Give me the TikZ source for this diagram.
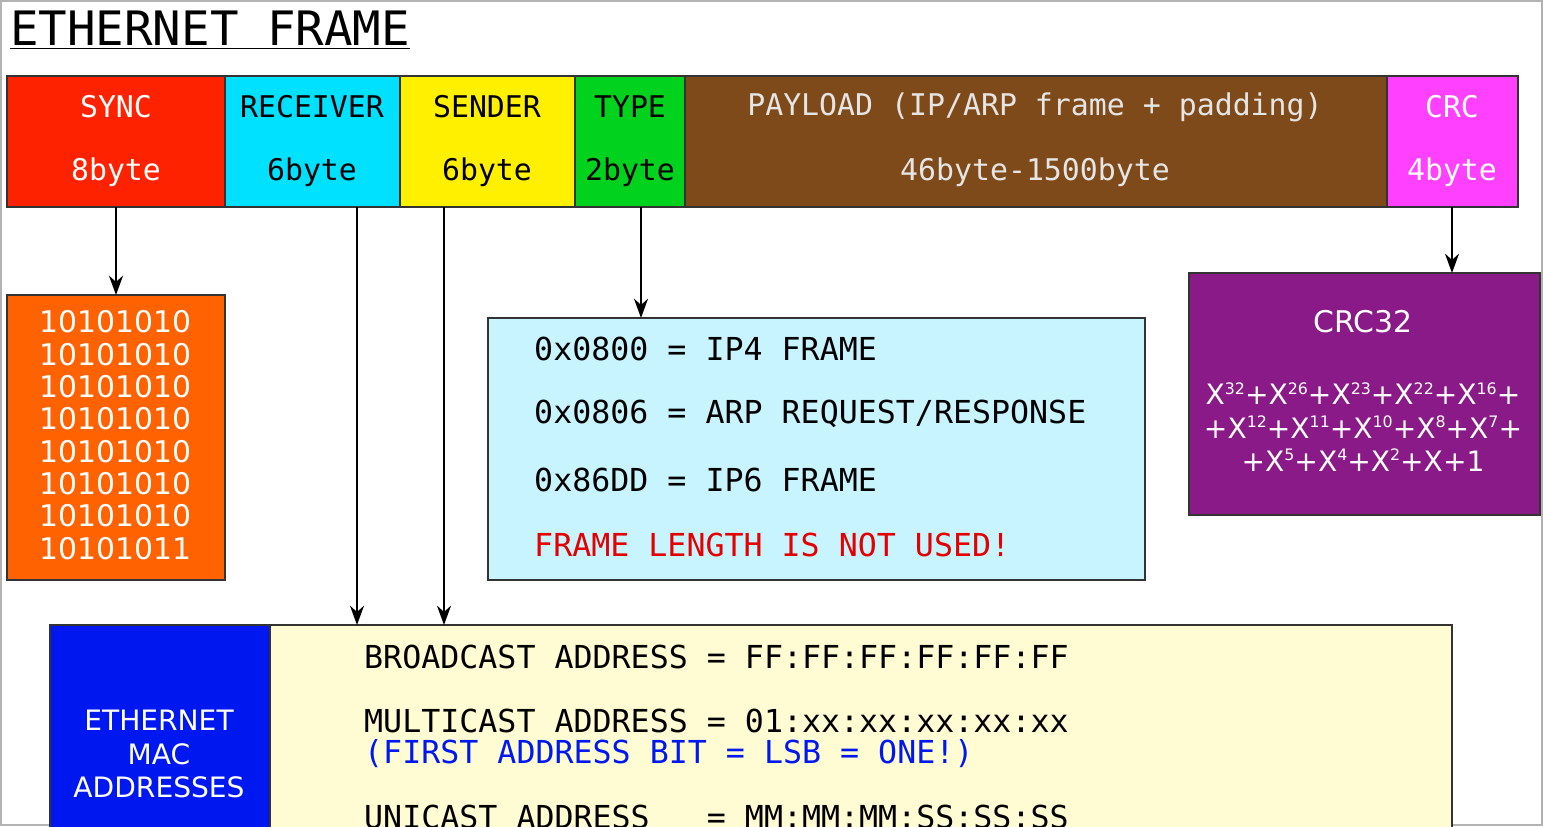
\documentclass[tikz,border=0pt]{standalone}
\usepackage{fontspec}
\setmainfont{DejaVu Sans}
\newfontfamily\mono{DejaVu Sans Mono}
\usetikzlibrary{arrows.meta}
\definecolor{cSync}{HTML}{FF2200}
\definecolor{cRecv}{HTML}{00E0FF}
\definecolor{cSend}{HTML}{FFF000}
\definecolor{cType}{HTML}{00D21E}
\definecolor{cPay}{HTML}{7F4A1A}
\definecolor{cCrc}{HTML}{FF40FF}
\definecolor{cOrange}{HTML}{FF6200}
\definecolor{cLcyan}{HTML}{C8F4FF}
\definecolor{cPurple}{HTML}{8A1A88}
\definecolor{cBlue}{HTML}{0018F0}
\definecolor{cCream}{HTML}{FFFBD2}
\newcommand{\sx}[1]{\raisebox{0.7ex}{\fontsize{9}{10}\selectfont #1}}
\begin{document}
\begin{tikzpicture}[x=0.02cm,y=-0.02cm,
  box/.style={draw=black!80,line width=1.2pt},
  hdr/.style={font=\mono\fontsize{17}{20}\selectfont,anchor=center},
  txt/.style={font=\mono\fontsize{18}{21}\selectfont,anchor=west},
  arr/.style={-{Stealth[length=11pt,width=8pt]},line width=1.2pt}]
\useasboundingbox (0,0) rectangle (1543,826);
\clip (0,0) rectangle (1543,826);
\fill[white] (0,0) rectangle (1543,826);
\draw[gray!60,line width=1pt] (1,1) rectangle (1542,825);
\node[anchor=west,font=\mono\fontsize{27}{32}\selectfont] (title) at (4,30) {\underline{ETHERNET FRAME}};
% header
\draw[box,fill=cSync] (7,76) rectangle (225,207);
\draw[box,fill=cRecv] (225,76) rectangle (400,207);
\draw[box,fill=cSend] (400,76) rectangle (575,207);
\draw[box,fill=cType] (575,76) rectangle (685,207);
\draw[box,fill=cPay] (685,76) rectangle (1387,207);
\draw[box,fill=cCrc] (1387,76) rectangle (1518,207);
\node[hdr,white] (s1) at (116,107) {SYNC};
\node[hdr,white] (s2) at (116,172) {8byte};
\node[hdr] (r1) at (312,107) {RECEIVER};
\node[hdr] (r2) at (312,172) {6byte};
\node[hdr] (e1) at (487,107) {SENDER};
\node[hdr] (e2) at (487,172) {6byte};
\node[hdr] (t1) at (630,107) {TYPE};
\node[hdr] (t2) at (630,172) {2byte};
\node[hdr,white!90!black] (p1) at (1035,107) {PAYLOAD (IP/ARP frame + padding)};
\node[hdr,white!90!black] (p2) at (1035,172) {46byte-1500byte};
\node[hdr,white] (c1) at (1452,107) {CRC};
\node[hdr,white] (c2) at (1452,172) {4byte};
% sync box
\draw[box,fill=cOrange] (7,295) rectangle (225,580);
\node[white,font=\fontsize{17}{18.4}\selectfont,align=center] (bits) at (116,435)
 {10101010\\10101010\\10101010\\10101010\\10101010\\10101010\\10101010\\10101011};
% type box
\draw[box,fill=cLcyan] (488,318) rectangle (1145,580);
\node[txt] (ty1) at (528,349) {0x0800 = IP4 FRAME};
\node[txt] (ty2) at (528,414) {0x0806 = ARP REQUEST/RESPONSE};
\node[txt] (ty3) at (528,480) {0x86DD = IP6 FRAME};
\node[txt,red!90!black] (ty4) at (528,545) {FRAME LENGTH IS NOT USED!};
% crc box
\draw[box,fill=cPurple] (1189,273) rectangle (1540,515);
\node[white,font=\fontsize{17}{20}\selectfont] (crc) at (1363,322) {CRC32};
\node[white,font=\fontsize{16}{19}\selectfont,align=center,inner sep=0pt] (poly) at (1363,427)
 {X\sx{32}+X\sx{26}+X\sx{23}+X\sx{22}+X\sx{16}+\\+X\sx{12}+X\sx{11}+X\sx{10}+X\sx{8}+X\sx{7}+\\+X\sx{5}+X\sx{4}+X\sx{2}+X+1};
% MAC box
\draw[box,fill=cBlue] (50,625) rectangle (270,900);
\draw[box,fill=cCream] (270,625) rectangle (1452,900);
\node[white,font=\fontsize{16}{19}\selectfont,align=center] (mac) at (159,754) {ETHERNET\\MAC\\ADDRESSES};
\node[txt] (m1) at (358,657) {BROADCAST ADDRESS = FF:FF:FF:FF:FF:FF};
\node[txt] (m2) at (358,721) {MULTICAST ADDRESS = 01:xx:xx:xx:xx:xx};
\node[txt,cBlue] (m3) at (358,754) {(FIRST ADDRESS BIT = LSB = ONE!)};
\node[txt] (m4) at (358,817) {UNICAST ADDRESS\ \ \ = MM:MM:MM:SS:SS:SS};
% arrows
\coordinate (aS) at (116,207); \coordinate (bS) at (116,295);
\coordinate (aR) at (357,207); \coordinate (bR) at (357,625);
\coordinate (aE) at (444,207); \coordinate (bE) at (444,625);
\coordinate (aT) at (641,207); \coordinate (bT) at (641,318);
\coordinate (aC) at (1452,207); \coordinate (bC) at (1452,273);
\draw[arr] (aS) -- (bS);
\draw[arr] (aR) -- (bR);
\draw[arr] (aE) -- (bE);
\draw[arr] (aT) -- (bT);
\draw[arr] (aC) -- (bC);
\end{tikzpicture}
\end{document}
